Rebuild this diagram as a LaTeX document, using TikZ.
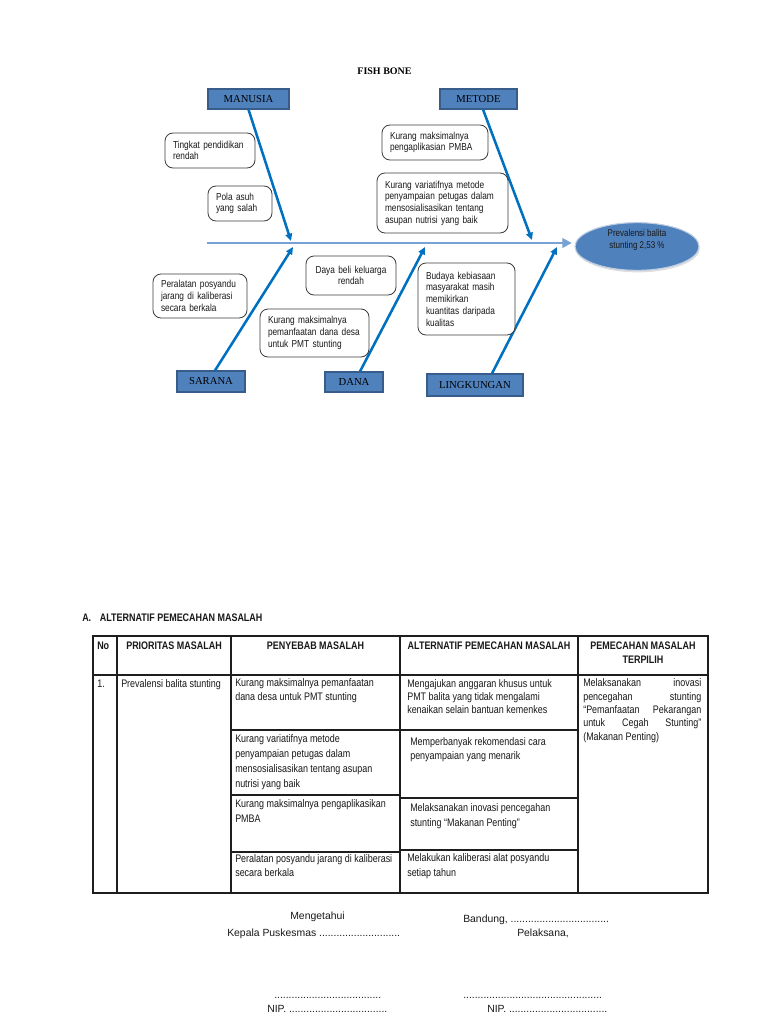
\documentclass[tikz,border=0pt]{standalone}
\usepackage{fontspec}
\setmainfont{Liberation Serif}
\newfontfamily\sansf{Liberation Sans}
\newfontfamily\narrowf[FakeStretch=0.82]{Liberation Sans}
\usetikzlibrary{arrows.meta,shapes.geometric,shadows}
\definecolor{lblfill}{RGB}{79,129,189}
\definecolor{lblborder}{RGB}{56,93,138}
\definecolor{ellborder}{RGB}{190,205,225}
\definecolor{bonecol}{RGB}{0,112,192}
\definecolor{spinecol}{RGB}{120,162,212}
\definecolor{boxborder}{RGB}{60,60,60}
\definecolor{tblline}{RGB}{30,30,30}
\definecolor{txt}{RGB}{25,25,25}
\tikzset{
  lbl/.style={draw=lblborder, fill=lblfill, line width=0.8pt, inner sep=0pt,
    font=\fontsize{8}{9.6}\selectfont, text=black},
  cause/.style={draw=boxborder, rounded corners=6pt, fill=white, line width=0.6pt,
    align=left, inner xsep=6pt, inner ysep=0pt, text=txt,
    font=\narrowf\fontsize{7.6}{8.8}\selectfont},
  bone/.style={draw=bonecol, line width=1.9pt, -{Triangle[length=5.5pt,width=5pt]}},
  spine/.style={draw=spinecol, line width=2pt, -{Triangle[length=7pt,width=7pt]}},
  tbl/.style={draw=tblline, line width=0.8pt},
  th/.style={inner sep=0pt, text=txt, font=\narrowf\bfseries\fontsize{8.2}{10.5}\selectfont},
  td/.style={anchor=base west, inner sep=0pt, align=left, text=txt,
    font=\narrowf\fontsize{8.2}{10}\selectfont},
  tdw/.style={td, font=\narrowf\fontsize{8.2}{11.25}\selectfont},
  sg/.style={inner sep=0pt, text=txt, font=\sansf\fontsize{7.8}{9}\selectfont}
}
\begin{document}
\begin{tikzpicture}[x=0.75pt,y=-0.75pt]
\fill[white] (0,0) rectangle (768,1024);
\useasboundingbox (0,0) rectangle (768,1024);

% ---------- Fishbone ----------
\node[font=\bfseries\fontsize{7.5}{9}\selectfont] (title) at (384.5,71) {FISH BONE};

\node[lbl, minimum width=60.75pt, minimum height=15pt] (manusia) at (248.5,99) {MANUSIA};
\node[lbl, minimum width=57.75pt, minimum height=15pt] (metode) at (478.5,99) {METODE};
\node[lbl, minimum width=51pt, minimum height=15.75pt] (sarana) at (211,381.5) {SARANA};
\node[lbl, minimum width=43.5pt, minimum height=15pt] (dana) at (354,382) {DANA};
\node[lbl, minimum width=72pt, minimum height=16.5pt] (lingkungan) at (475,385) {LINGKUNGAN};

\node[ellipse, fill=lblfill, draw=ellborder, line width=0.8pt, minimum width=93pt,
  minimum height=33pt, inner sep=0pt, align=center, text=txt,
  font=\narrowf\fontsize{7.3}{8.5}\selectfont,
  drop shadow={opacity=0.25, shadow xshift=0.6pt, shadow yshift=-1.5pt}]
  (prev) at (637,246.5) {Prevalensi balita\\stunting 2,53 \%\\[3pt]};

\coordinate (sp0) at (207,243);
\draw[spine, shorten >=2pt] (sp0) -- (sp0 -| prev.west);

\coordinate (mE) at (291,241);
\coordinate (tE) at (532,240);
\coordinate (sE) at (293,247);
\coordinate (dE) at (425,247);
\coordinate (lE) at (557,247);
\draw[bone] (manusia.south) -- (mE);
\draw[bone] ([xshift=3.4pt]metode.south) -- (tE);
\draw[bone] ([xshift=3pt]sarana.north) -- (sE);
\draw[bone] ([xshift=4.5pt]dana.north) -- (dE);
\draw[bone] ([xshift=12.75pt]lingkungan.north) -- (lE);

\node[cause, text width=55.5pt, minimum height=26.25pt] (c1) at (210,150.5) {Tingkat pendidikan\\rendah};
\node[cause, text width=36pt, minimum height=26.25pt] (c2) at (240,203.5) {Pola asuh\\yang salah};
\node[cause, text width=67.5pt, minimum height=26.25pt] (c3) at (435,142.5) {Kurang maksimalnya\\pengaplikasian PMBA};
\node[cause, text width=86.25pt, minimum height=45pt] (c4) at (442.5,203) {Kurang variatifnya metode\\penyampaian petugas dalam\\mensosialisasikan tentang\\asupan nutrisi yang baik};
\node[cause, text width=58.5pt, minimum height=33pt] (c5) at (200,296) {Peralatan posyandu\\jarang di kaliberasi\\secara berkala};
\node[cause, text width=55.5pt, minimum height=29.25pt, align=center] (c6) at (351,275.5) {Daya beli keluarga\\rendah};
\node[cause, text width=69.75pt, minimum height=36pt] (c7) at (314.5,333) {Kurang maksimalnya\\pemanfaatan dana desa\\untuk PMT stunting};
\node[cause, text width=60.75pt, minimum height=54pt] (c8) at (466.5,299) {Budaya kebiasaan\\masyarakat masih\\memikirkan\\kuantitas daripada\\kualitas};

% ---------- Section A ----------
\node[th, anchor=base west] (secA) at (82,621) {A.\hspace{6.5pt}ALTERNATIF PEMECAHAN MASALAH};

% table grid
\draw[tbl] (93,636) rectangle (708,893);
\foreach \xx in {117,231,400,578} \draw[tbl] (\xx,636) -- (\xx,893);
\draw[tbl] (93,675) -- (708,675);
\foreach \yy in {730,795,852} \draw[tbl] (231,\yy) -- (400,\yy);
\foreach \yy in {730,798,850} \draw[tbl] (400,\yy) -- (578,\yy);

% header (multi-line nodes are placed by the baseline of their last line)
\node[th, anchor=base west] (hno) at (97,649) {No};
\node[th, anchor=base] (h2) at (174,649) {PRIORITAS MASALAH};
\node[th, anchor=base] (h3) at (315.5,649) {PENYEBAB MASALAH};
\node[th, anchor=base] (h4) at (489,649) {ALTERNATIF PEMECAHAN MASALAH};
\node[th, anchor=base, align=center] (h5) at (643,663) {PEMECAHAN MASALAH\\TERPILIH};

% body
\node[td] (no1) at (97,687) {1.};
\node[td] (p1) at (121,687) {Prevalensi balita stunting};
\node[td] (s1) at (235,700.3) {Kurang maksimalnya pemanfaatan\\dana desa untuk PMT stunting};
\node[tdw] (s2) at (235,787) {Kurang variatifnya metode\\penyampaian petugas dalam\\mensosialisasikan tentang asupan\\nutrisi yang baik};
\node[tdw] (s3) at (235,822) {Kurang maksimalnya pengaplikasikan\\PMBA};
\node[td] (s4) at (235,876) {Peralatan posyandu jarang di kaliberasi\\secara berkala};
\node[td] (a1) at (407,713.7) {Mengajukan anggaran khusus untuk\\PMT balita yang tidak mengalami\\kenaikan selain bantuan kemenkes};
\node[td, font=\narrowf\fontsize{8.2}{10.5}\selectfont] (a2) at (410,759) {Memperbanyak rekomendasi cara\\penyampaian yang menarik};
\node[tdw] (a3) at (410,826) {Melaksanakan inovasi pencegahan\\stunting “Makanan Penting”};
\node[tdw] (a4) at (407,876) {Melakukan kaliberasi alat posyandu\\setiap tahun};
\node[td] (t1) at (583,740.3) {\makebox[88.5pt][s]{Melaksanakan inovasi}\\\makebox[88.5pt][s]{pencegahan stunting}\\\makebox[88.5pt][s]{“Pemanfaatan Pekarangan}\\\makebox[88.5pt][s]{untuk Cegah Stunting”}\\(Makanan Penting)};

% ---------- Signatures ----------
\node[sg, anchor=base] (mg) at (317.5,919) {Mengetahui};
\node[sg, anchor=base west] (kp) at (227,936) {Kepala Puskesmas ............................};
\node[sg, anchor=base west] (bd) at (463,922) {Bandung, ..................................};
\node[sg, anchor=base] (pl) at (543,936) {Pelaksana,};
\node[sg, anchor=base west] (d1) at (274,998) {.....................................};
\node[sg, anchor=base west] (n1) at (267,1012) {NIP. ..................................};
\node[sg, anchor=base west] (d2) at (463,998) {................................................};
\node[sg, anchor=base west] (n2) at (487,1012) {NIP. ..................................};
\end{tikzpicture}
\end{document}
